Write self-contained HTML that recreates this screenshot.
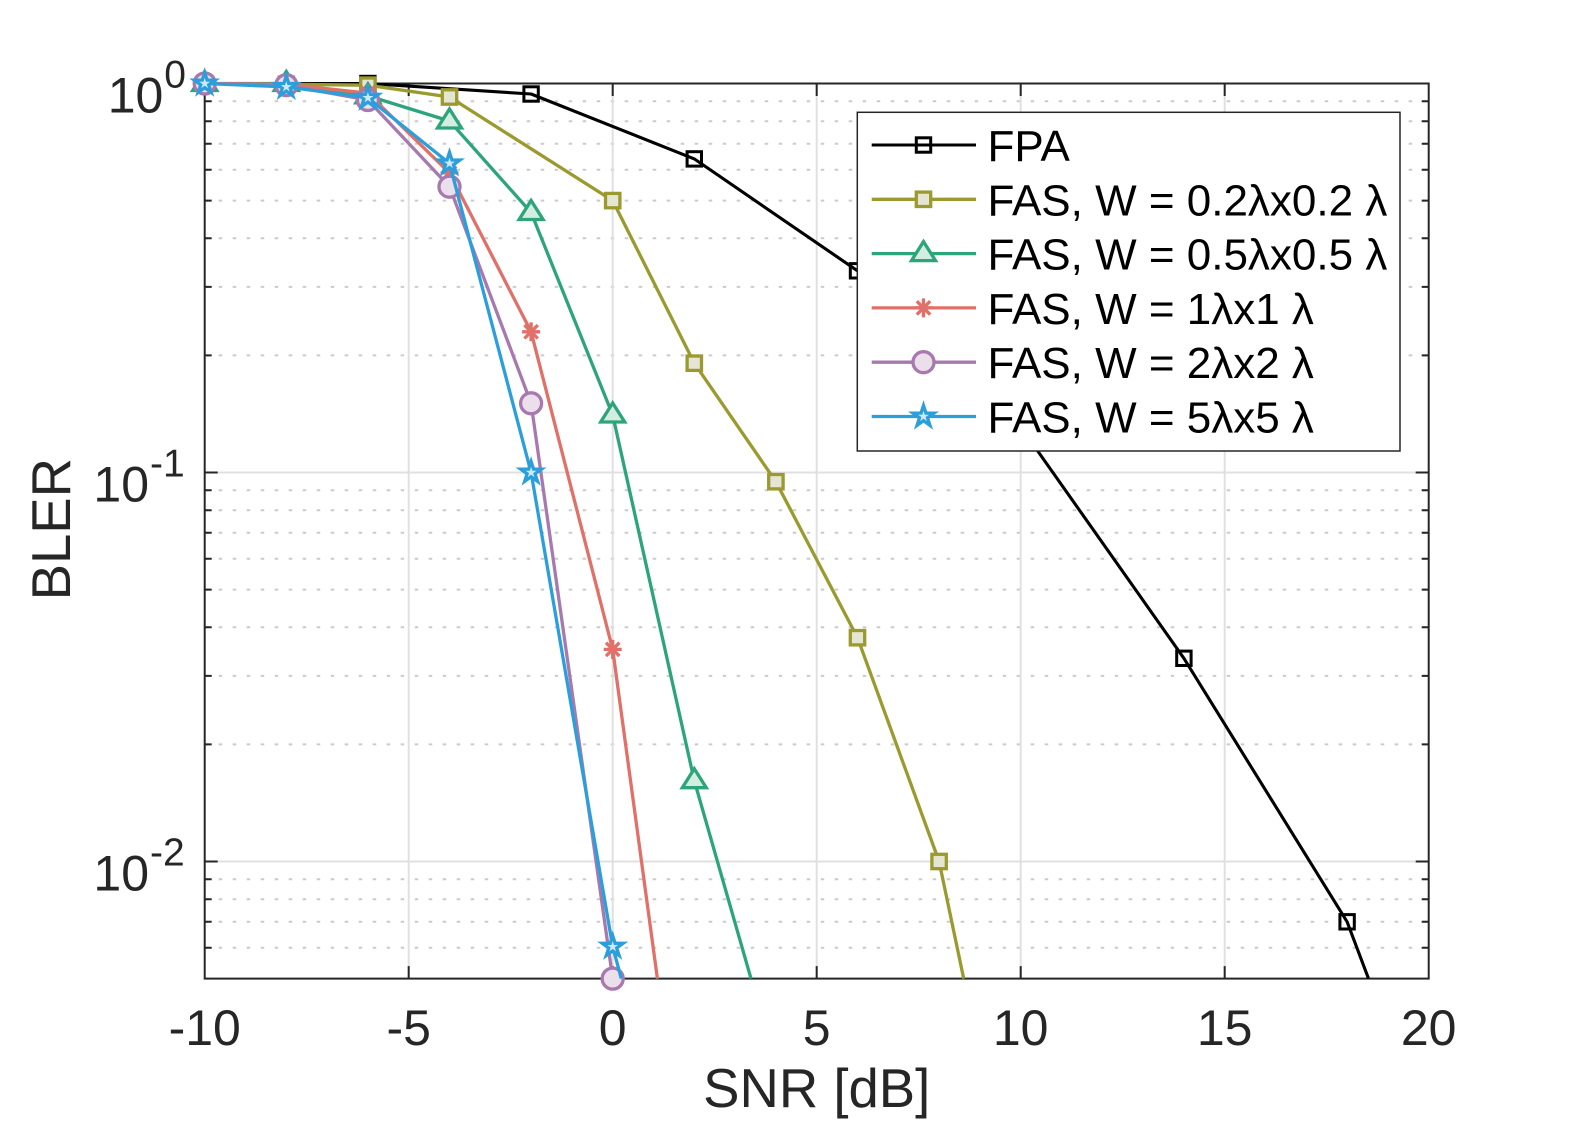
<!DOCTYPE html>
<html>
<head>
<meta charset="utf-8">
<style>
  html,body{margin:0;padding:0;background:#fff;width:1578px;height:1122px;overflow:hidden;}
  svg{display:block;}
  text{font-family:"Liberation Sans", Arial, Helvetica, sans-serif;}
</style>
</head>
<body>
<svg width="1578" height="1122" viewBox="0 0 1578 1122" xmlns="http://www.w3.org/2000/svg">
  <defs>
    <rect id="sq" x="-7.2" y="-7.2" width="14.4" height="14.4"/>
    <path id="tri" d="M0,-12 L12,7 L-12,7 Z"/>
    <circle id="circ" r="10.5"/>
    <path id="ast" d="M0,-9.5V9.5M-9,0H9M-6.7,-6.7L6.7,6.7M-6.7,6.7L6.7,-6.7"/>
    <path id="star" d="M0,-11 L2.47,-3.40 L10.46,-3.40 L3.99,1.30 L6.47,8.90 L0,4.2 L-6.47,8.90 L-3.99,1.30 L-10.46,-3.40 L-2.47,-3.40 Z"/>
  </defs>
  <rect x="0" y="0" width="1578" height="1122" fill="#fff"/>

  <!-- minor grid (dotted) -->
  <g stroke="#cbcbcb" stroke-width="2" stroke-dasharray="3.5 10.5" fill="none">
    <path d="M204.7,355.4H1428.7 M204.7,286.9H1428.7 M204.7,238.3H1428.7 M204.7,200.6H1428.7 M204.7,169.8H1428.7 M204.7,143.8H1428.7 M204.7,121.2H1428.7 M204.7,101.3H1428.7
             M204.7,744.4H1428.7 M204.7,675.9H1428.7 M204.7,627.3H1428.7 M204.7,589.6H1428.7 M204.7,558.8H1428.7 M204.7,532.8H1428.7 M204.7,510.2H1428.7 M204.7,490.3H1428.7
             M204.7,947.8H1428.7 M204.7,921.8H1428.7 M204.7,899.2H1428.7 M204.7,879.3H1428.7"/>
  </g>
  <!-- major grid -->
  <g stroke="#e0e0e0" stroke-width="2" fill="none">
    <path d="M408.7,83.5V978.6 M612.7,83.5V978.6 M816.7,83.5V978.6 M1020.7,83.5V978.6 M1224.7,83.5V978.6
             M204.7,472.5H1428.7 M204.7,861.5H1428.7"/>
  </g>

  <!-- ticks -->
  <g stroke="#262626" stroke-width="2" fill="none">
    <path d="M408.7,978.6v-12.5 M612.7,978.6v-12.5 M816.7,978.6v-12.5 M1020.7,978.6v-12.5 M1224.7,978.6v-12.5
             M408.7,83.5v12.5 M612.7,83.5v12.5 M816.7,83.5v12.5 M1020.7,83.5v12.5 M1224.7,83.5v12.5"/>
    <path d="M204.7,472.5h13 M204.7,861.5h13 M1428.7,472.5h-13 M1428.7,861.5h-13"/>
    <path d="M204.7,355.4h7 M204.7,286.9h7 M204.7,238.3h7 M204.7,200.6h7 M204.7,169.8h7 M204.7,143.8h7 M204.7,121.2h7 M204.7,101.3h7
             M204.7,744.4h7 M204.7,675.9h7 M204.7,627.3h7 M204.7,589.6h7 M204.7,558.8h7 M204.7,532.8h7 M204.7,510.2h7 M204.7,490.3h7
             M204.7,947.8h7 M204.7,921.8h7 M204.7,899.2h7 M204.7,879.3h7"/>
    <path d="M1428.7,355.4h-7 M1428.7,286.9h-7 M1428.7,238.3h-7 M1428.7,200.6h-7 M1428.7,169.8h-7 M1428.7,143.8h-7 M1428.7,121.2h-7 M1428.7,101.3h-7
             M1428.7,744.4h-7 M1428.7,675.9h-7 M1428.7,627.3h-7 M1428.7,589.6h-7 M1428.7,558.8h-7 M1428.7,532.8h-7 M1428.7,510.2h-7 M1428.7,490.3h-7
             M1428.7,947.8h-7 M1428.7,921.8h-7 M1428.7,899.2h-7 M1428.7,879.3h-7"/>
  </g>
  <rect x="204.7" y="83.5" width="1224" height="895.1" fill="none" stroke="#262626" stroke-width="2"/>

  <!-- tick labels -->
  <g fill="#262626" font-size="50" text-anchor="middle">
    <text x="204.7" y="1045">-10</text>
    <text x="408.7" y="1045">-5</text>
    <text x="612.7" y="1045">0</text>
    <text x="816.7" y="1045">5</text>
    <text x="1020.7" y="1045">10</text>
    <text x="1224.7" y="1045">15</text>
    <text x="1428.7" y="1045">20</text>
  </g>
  <g fill="#262626">
    <text x="107.7" y="112.7" font-size="50">10</text>
    <text x="164.3" y="87.7" font-size="39">0</text>
    <text x="93.4" y="501.7" font-size="50">10</text>
    <text x="150" y="476.7" font-size="39">-1</text>
    <text x="93.4" y="890.7" font-size="50">10</text>
    <text x="150" y="865.7" font-size="39">-2</text>
  </g>
  <text x="816.7" y="1107" font-size="54.5" fill="#262626" text-anchor="middle">SNR [dB]</text>
  <text x="70" y="529.2" font-size="54.5" fill="#262626" text-anchor="middle" transform="rotate(-90 70 529.2)">BLER</text>

  <!-- FPA -->
  <polyline fill="none" stroke="#000" stroke-width="3.1" stroke-linejoin="round"
    points="204.7,83.5 367.9,83.5 531.1,94 694.3,158.9 857.5,270.8 1020.7,426.9 1183.9,658.3 1347.1,921.8 1368.5,978.6"/>
  <g fill="none" stroke="#000" stroke-width="3">
    <use href="#sq" x="204.7" y="83.5"/><use href="#sq" x="367.9" y="83.5"/><use href="#sq" x="531.1" y="94"/>
    <use href="#sq" x="694.3" y="158.9"/><use href="#sq" x="857.5" y="270.8"/><use href="#sq" x="1020.7" y="426.9"/>
    <use href="#sq" x="1183.9" y="658.3"/><use href="#sq" x="1347.1" y="921.8"/>
  </g>

  <!-- Olive 0.2 -->
  <polyline fill="none" stroke="#9b9a2f" stroke-width="3.3" stroke-linejoin="round"
    points="204.7,83.5 286.3,84.3 367.9,85.2 449.5,97 612.7,200.6 694.3,363.2 775.9,481.7 857.5,637.7 939.1,861.5 963.7,978.6"/>
  <g fill="#e4e6d3" stroke="#9b9a2f" stroke-width="3.3">
    <use href="#sq" x="204.7" y="83.5"/><use href="#sq" x="286.3" y="84.3"/><use href="#sq" x="367.9" y="85.2"/>
    <use href="#sq" x="449.5" y="97"/><use href="#sq" x="612.7" y="200.6"/><use href="#sq" x="694.3" y="363.2"/>
    <use href="#sq" x="775.9" y="481.7"/><use href="#sq" x="857.5" y="637.7"/><use href="#sq" x="939.1" y="861.5"/>
  </g>

  <!-- Green 0.5 -->
  <polyline fill="none" stroke="#2da57a" stroke-width="3.3" stroke-linejoin="round"
    points="204.7,83.5 286.3,83.5 367.9,95.8 449.5,121 531.1,212.5 612.7,415 694.3,780.7 751.0,978.6"/>
  <g fill="#d4ede2" stroke="#2da57a" stroke-width="3.3">
    <use href="#tri" x="204.7" y="83.5"/><use href="#tri" x="286.3" y="83.5"/><use href="#tri" x="367.9" y="95.8"/>
    <use href="#tri" x="449.5" y="121"/><use href="#tri" x="531.1" y="212.5"/><use href="#tri" x="612.7" y="415"/>
    <use href="#tri" x="694.3" y="780.7"/>
  </g>

  <!-- Red 1 -->
  <polyline fill="none" stroke="#e07068" stroke-width="3.3" stroke-linejoin="round"
    points="204.7,83.5 286.3,84.3 367.9,93.2 449.5,172.9 531.1,331.8 612.7,649.4 657.4,978.6"/>
  <g fill="none" stroke="#e07068" stroke-width="3.3">
    <use href="#ast" x="204.7" y="83.5"/><use href="#ast" x="286.3" y="84.3"/><use href="#ast" x="367.9" y="93.2"/>
    <use href="#ast" x="449.5" y="172.9"/><use href="#ast" x="531.1" y="331.8"/><use href="#ast" x="612.7" y="649.4"/>
  </g>

  <!-- Purple 2 -->
  <polyline fill="none" stroke="#a779ae" stroke-width="3.3" stroke-linejoin="round"
    points="204.7,83.5 286.3,85.2 367.9,100 449.5,186.7 531.1,403.3 612.7,978.6"/>
  <g fill="#ecdfec" stroke="#a779ae" stroke-width="3.3">
    <use href="#circ" x="204.7" y="83.5"/><use href="#circ" x="286.3" y="85.2"/><use href="#circ" x="367.9" y="100"/>
    <use href="#circ" x="449.5" y="186.7"/><use href="#circ" x="531.1" y="403.3"/><use href="#circ" x="612.7" y="978.6"/>
  </g>

  <!-- Blue 5 -->
  <polyline fill="none" stroke="#2b9fdc" stroke-width="3.3" stroke-linejoin="round"
    points="204.7,83.5 286.3,86.9 367.9,97.8 449.5,163.4 531.1,472.5 612.7,946.7 621.3,978.6"/>
  <g fill="#d0e9f7" stroke="#2b9fdc" stroke-width="3.3" stroke-linejoin="miter">
    <use href="#star" x="204.7" y="83.5"/><use href="#star" x="286.3" y="86.9"/><use href="#star" x="367.9" y="97.8"/>
    <use href="#star" x="449.5" y="163.4"/><use href="#star" x="531.1" y="472.5"/><use href="#star" x="612.7" y="946.7"/>
  </g>

  <!-- legend -->
  <rect x="857.3" y="112.3" width="542.7" height="338.7" fill="#fff" stroke="#262626" stroke-width="1.5"/>
  <g stroke-width="3.3" fill="none">
    <line x1="871.7" y1="145" x2="976" y2="145" stroke="#000" stroke-width="3.1"/>
    <line x1="871.7" y1="199.3" x2="976" y2="199.3" stroke="#9b9a2f"/>
    <line x1="871.7" y1="253.6" x2="976" y2="253.6" stroke="#2da57a"/>
    <line x1="871.7" y1="307.9" x2="976" y2="307.9" stroke="#e07068"/>
    <line x1="871.7" y1="362.2" x2="976" y2="362.2" stroke="#a779ae"/>
    <line x1="871.7" y1="416.5" x2="976" y2="416.5" stroke="#2b9fdc"/>
  </g>
  <use href="#sq" x="923.5" y="145" fill="none" stroke="#000" stroke-width="3"/>
  <use href="#sq" x="923.5" y="199.3" fill="#e4e6d3" stroke="#9b9a2f" stroke-width="3.3"/>
  <use href="#tri" x="923.5" y="253.6" fill="#d4ede2" stroke="#2da57a" stroke-width="3.3"/>
  <use href="#ast" x="923.5" y="307.9" fill="none" stroke="#e07068" stroke-width="3.3"/>
  <use href="#circ" x="923.5" y="362.2" fill="#ecdfec" stroke="#a779ae" stroke-width="3.3"/>
  <use href="#star" x="923.5" y="416.5" fill="#d0e9f7" stroke="#2b9fdc" stroke-width="3.3"/>
  <g fill="#000" font-size="44">
    <text x="987.5" y="161">FPA</text>
    <text x="987.5" y="215.3">FAS, W = 0.2λx0.2 λ</text>
    <text x="987.5" y="269.6">FAS, W = 0.5λx0.5 λ</text>
    <text x="987.5" y="323.9">FAS, W = 1λx1 λ</text>
    <text x="987.5" y="378.2">FAS, W = 2λx2 λ</text>
    <text x="987.5" y="432.5">FAS, W = 5λx5 λ</text>
  </g>
</svg>
</body>
</html>
